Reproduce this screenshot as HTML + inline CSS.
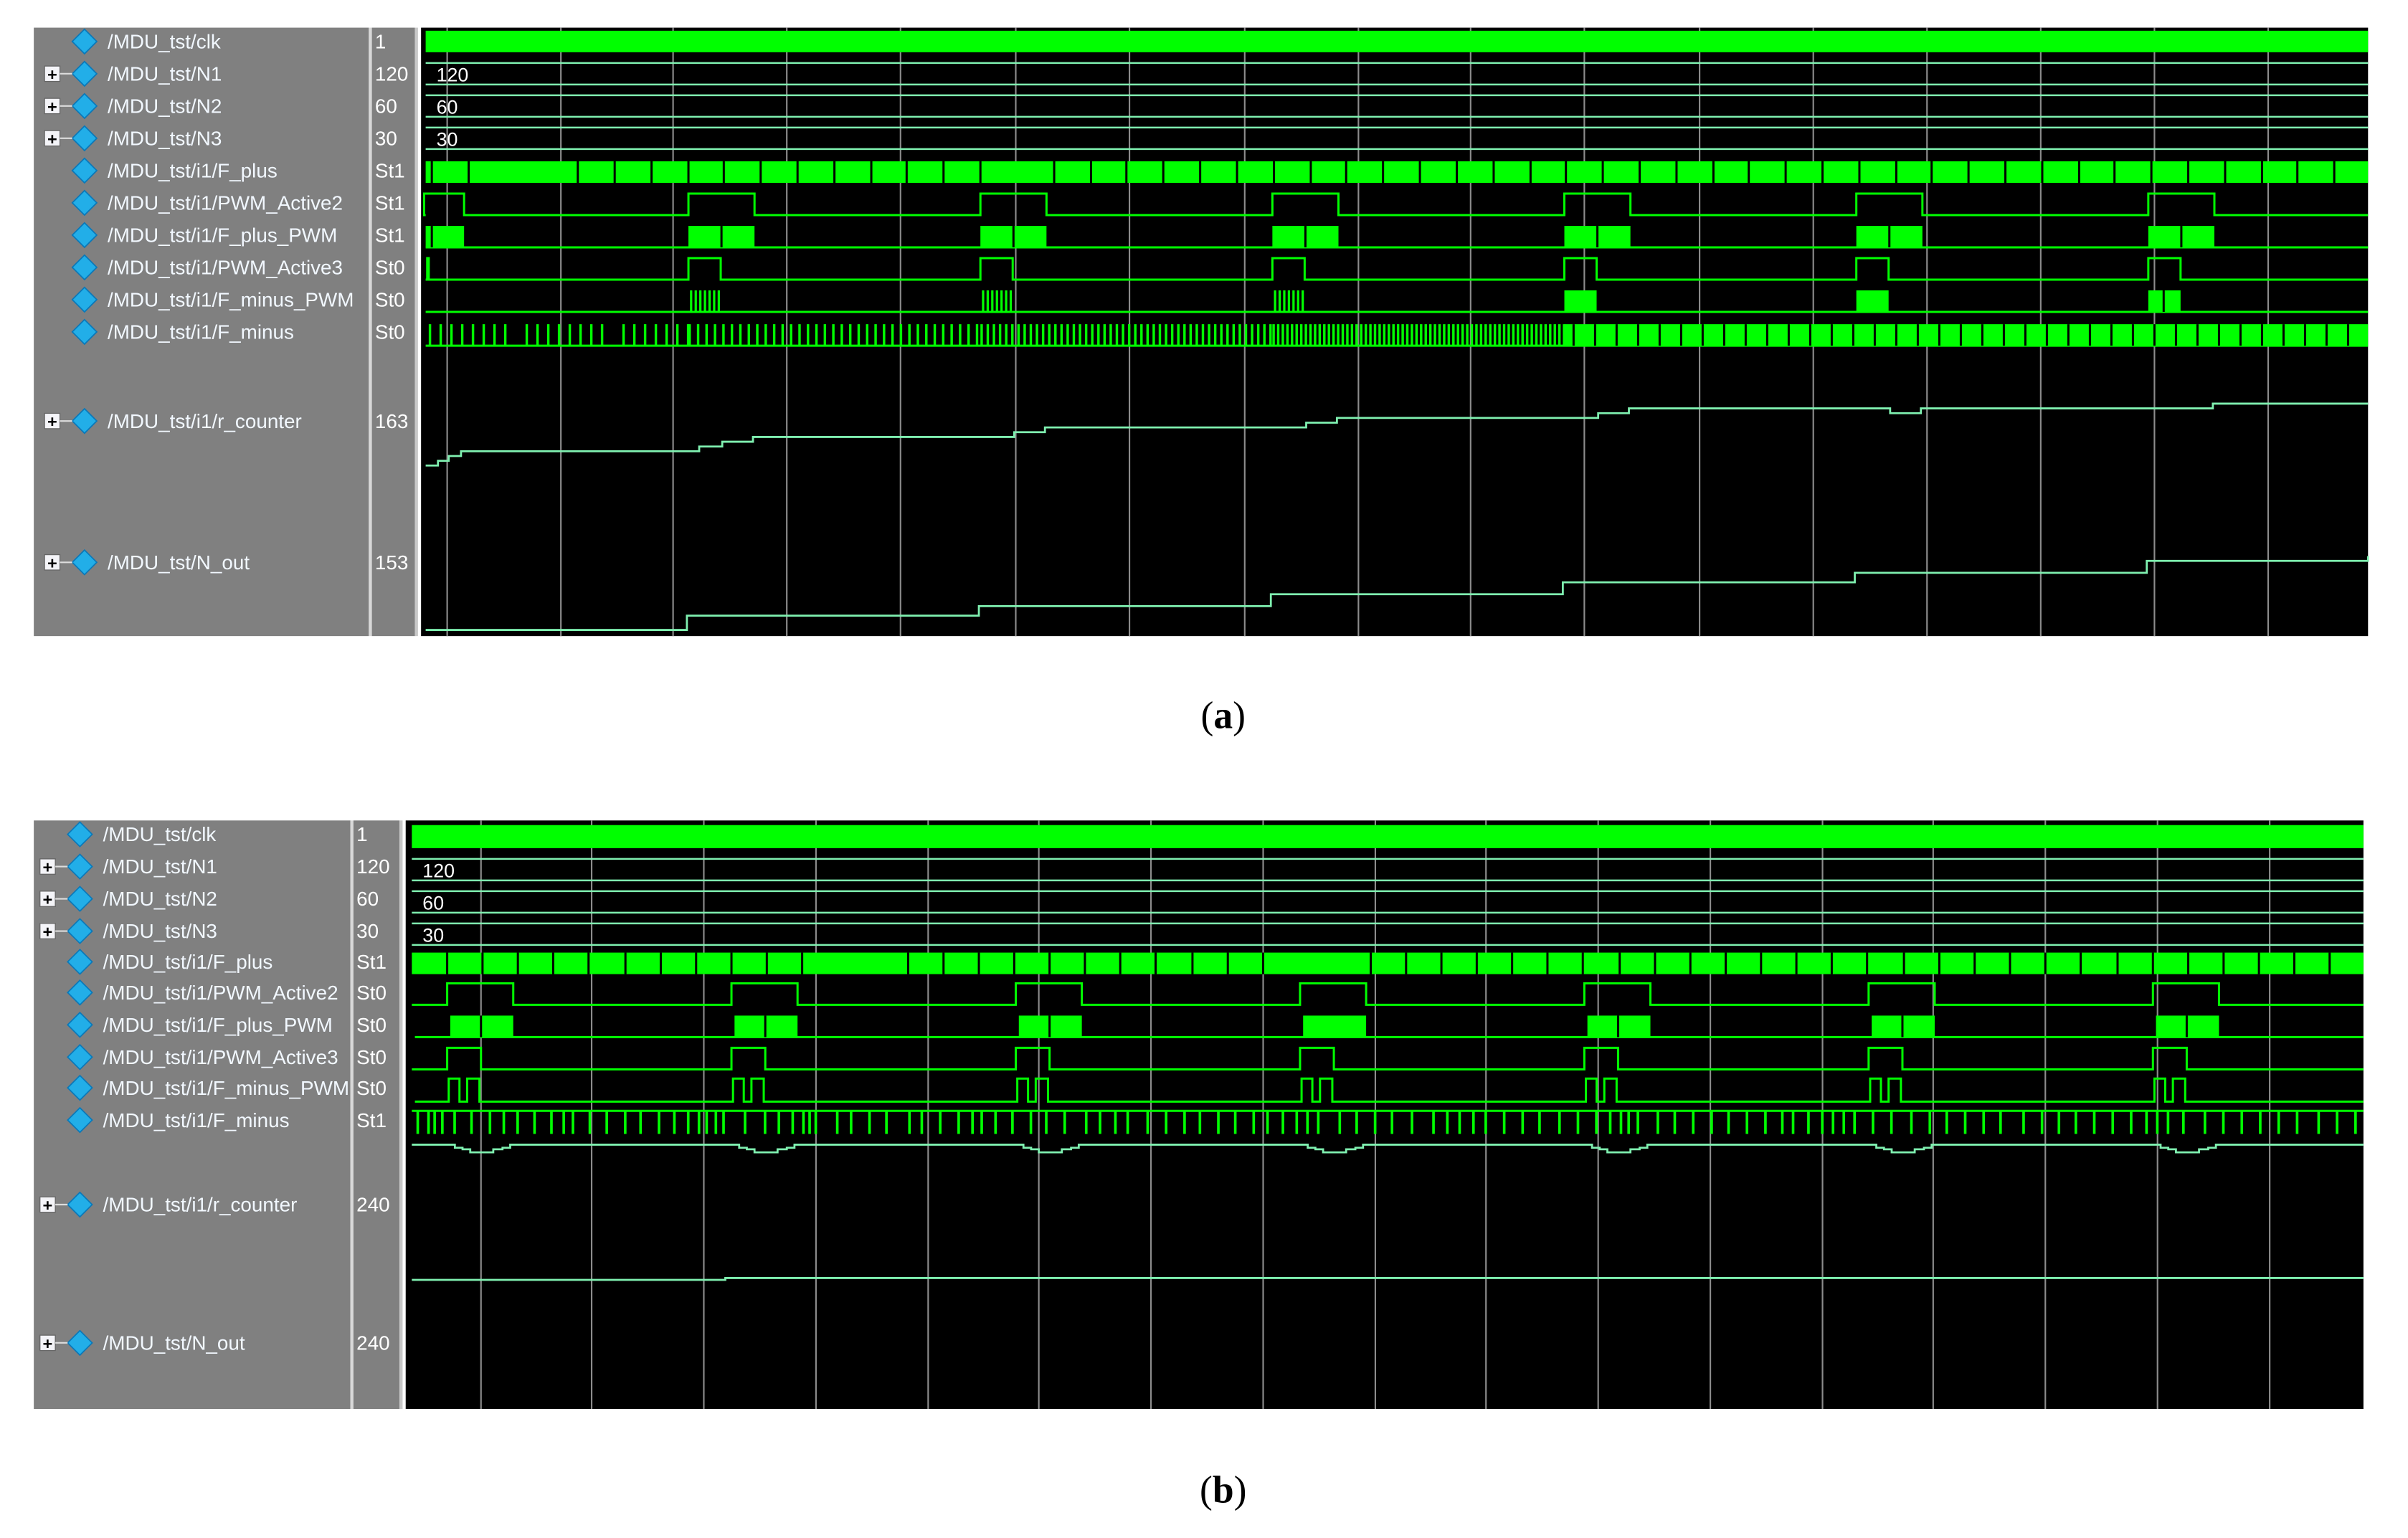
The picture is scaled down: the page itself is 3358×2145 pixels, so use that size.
<!DOCTYPE html>
<html><head><meta charset="utf-8"><style>
html,body{margin:0;padding:0;background:#fff;}
svg{display:block;}
text{font-family:"Liberation Sans","DejaVu Sans",sans-serif;}
</style></head><body>
<svg id="fig" xmlns="http://www.w3.org/2000/svg" width="3358" height="2145" viewBox="0 0 1567 1001" preserveAspectRatio="none">
<rect x="0" y="0" width="1567" height="1001" fill="#fff"/>
<text x="796" y="474" text-anchor="middle" font-size="25" style="font-family:'Liberation Serif',serif">(<tspan font-weight="bold">a</tspan>)</text>
<text x="796" y="978" text-anchor="middle" font-size="25" style="font-family:'Liberation Serif',serif">(<tspan font-weight="bold">b</tspan>)</text>
<g id="pa"></g><g id="pb"></g>
</svg>
<script>
// ---------- DATA (times in simulator units) ----------
const signalNames = ["/MDU_tst/clk","/MDU_tst/N1","/MDU_tst/N2","/MDU_tst/N3","/MDU_tst/i1/F_plus","/MDU_tst/i1/PWM_Active2","/MDU_tst/i1/F_plus_PWM","/MDU_tst/i1/PWM_Active3","/MDU_tst/i1/F_minus_PWM","/MDU_tst/i1/F_minus","/MDU_tst/i1/r_counter","/MDU_tst/N_out"];
const expandable = [false,true,true,true,false,false,false,false,false,false,true,true];
const valuesA = ["1","120","60","30","St1","St1","St1","St0","St0","St0","163","153"];
const valuesB = ["1","120","60","30","St1","St0","St0","St0","St0","St1","240","240"];
const busValues = ["120","60","30"];
// panel a
const gridA = [14,88,161,235,309,384,458,533,607,680,754,829,903,977,1051,1125,1199];
const fplusGapsA = [4,28,99,123,147,171,194,218,242,266,290,313,337,361,409,433,456,480,504,528,552,576,599,623,647,671,695,719,742,766,790,814,838,861,885,909,933,957,980,1004,1028,1052,1076,1099,1123,1147,1171,1195,1218,1242];
const pwm2StartA = [171,361,551,741,931,1121];
const pwm2EndA = [214,404,594,784,974,1164];
const pwm3EndA = [192,382,572,762,952,1142];
const rcT = [0,8,15,23,170,178,193,213,360,383,403,550,573,593,740,763,783,930,940,953,973,1121,1133,1143,1163,1264];
const rcV = [150,151,152,153,153,154,155,156,156,157,158,158,159,160,160,161,162,162,162,161,162,162,162,162,163,163];
const noT = [0,170,360,550,740,930,1120,1264];
const noV = [120,126,130,135,140,144,149,151];
// F_minus density segments (start, end, pulse period)
const fmSegStart = [2,171,361,551,741];
const fmSegEnd = [171,361,551,741,1264];
const fmSegPeriod = [7,5.5,4,3,14];
// panel b
const gridB = [45,117,190,263,336,408,481,554,627,699,772,845,918,990,1063,1136,1209];
const fplusGapsB = [23,46,69,92,115,139,162,185,208,231,254,323,346,369,392,415,438,461,484,508,531,554,624,647,670,693,716,739,762,786,809,832,855,878,901,924,947,971,994,1017,1040,1063,1086,1110,1133,1156,1179,1202,1225,1248];
const pwm2StartB = [23,208,393,578,763,948,1133];
const fmGapsB = [3,10,14,19,27,38,50,59,68,79,90,98,104,115,126,138,148,160,170,179,186,191,197,202,216,229,238,247,254,258,262,276,285,297,308,323,331,343,355,364,370,379,390,402,412,424,438,447,457,465,478,490,502,512,524,535,547,556,566,575,582,589,603,614,626,637,650,664,673,681,690,698,710,722,733,746,758,770,779,786,791,797,810,821,833,845,856,868,880,891,898,908,917,924,931,938,950,962,975,987,998,1010,1022,1033,1048,1060,1071,1082,1094,1106,1118,1128,1135,1142,1152,1166,1178,1190,1202,1214,1226,1240,1252,1264];

// ---------- helpers ----------
const NS="http://www.w3.org/2000/svg";
function mk(parent,tag,attrs){const e=document.createElementNS(NS,tag);for(const k in attrs)e.setAttribute(k,attrs[k]);parent.appendChild(e);return e;}
const GREEN="#00ff00", BUS="#7ff0b0";

function panel(g,P){
  let r=mk(g,'rect',{x:P.nx,y:P.top,width:P.nw,height:P.h,fill:'#808080'});
  
  
  r=mk(g,'rect',{x:P.nx+P.nw,y:P.top,width:2,height:P.h,fill:'#d8d8d8'});
  
  
  r=mk(g,'rect',{x:P.vx,y:P.top,width:P.vw,height:P.h,fill:'#808080'});
  
  
  r=mk(g,'rect',{x:P.vx+P.vw,y:P.top,width:2,height:P.h,fill:'#c8c8c8'});
  
  
  r=mk(g,'rect',{x:P.wx,y:P.top,width:P.ww,height:P.h,fill:'#000'});
  
  
  P.grid.forEach(t=>{const x=P.xs(t);let l=mk(g,'line',{x1:x,x2:x,y1:P.top,y2:P.top+P.h,stroke:'#8c8c8c','stroke-width':1});
    
    });
  signalNames.forEach((n,i)=>{const y=P.rows[i];
    const d=mk(g,'polygon',{points:`${P.ix},${y-8} ${P.ix+8},${y} ${P.ix},${y+8} ${P.ix-8},${y}`,fill:'#22aee8',stroke:'#0b78b8','stroke-width':0.8});
    
    
    if(expandable[i]){
      const b=mk(g,'rect',{x:P.ix-26,y:y-5,width:10,height:10,fill:'#f4f4f8',stroke:'#666','stroke-width':0.6});
      
      
      mk(g,'line',{x1:P.ix-16,x2:P.ix-8,y1:y,y2:y,stroke:'#ddd','stroke-width':1});
      mk(g,'text',{x:P.ix-21,y:y+4.2,'font-size':11,'text-anchor':'middle',fill:'#000','font-weight':'bold'}).textContent='+';
    }
    const t=mk(g,'text',{x:P.ix+15,y:y+4.5,'font-size':13,fill:'#f2f8ff'});
    t.textContent=n;
    
    
    const v=mk(g,'text',{x:P.vx+2,y:y+4.5,'font-size':13,fill:'#fff'});
    v.textContent=P.vals[i];
    
    
  });
}
function hline(g,x1,x2,y,c,w){return mk(g,'line',{x1,x2,y1:y,y2:y,stroke:c||GREEN,'stroke-width':w||1.4});}
function block(g,x1,x2,y1,y2){return mk(g,'rect',{x:x1,y:y1,width:Math.max(0,x2-x1),height:y2-y1,fill:GREEN});}
function gap(g,x,y1,y2,w){return mk(g,'rect',{x:x-(w||1)/2,y:y1,width:w||1.2,height:y2-y1,fill:'#000'});}
function sq(g,P,starts,ends,yh,yl,name){
  let pts=[[P.xs(0),yl]];
  starts.forEach((s,i)=>{pts.push([P.xs(s),yl],[P.xs(s),yh],[P.xs(ends[i]),yh],[P.xs(ends[i]),yl]);});
  pts.push([P.xs(P.tmax),yl]);
  const p=mk(g,'polyline',{points:pts.map(p=>p.join(',')).join(' '),fill:'none',stroke:GREEN,'stroke-width':1.4});
  
  
  return p;
}
function stepLine(g,P,ts,vs,ys,name){
  let pts=[];ts.forEach((t,i)=>{const y=ys(vs[i]);if(i>0)pts.push([P.xs(t),ys(vs[i-1])]);pts.push([P.xs(t),y]);});
  const p=mk(g,'polyline',{points:pts.map(p=>p.join(',')).join(' '),fill:'none',stroke:BUS,'stroke-width':1.3});
  
  
}
function busRows(g,P,ys){
  ys.forEach((y,i)=>{hline(g,P.xs(0),P.xs(P.tmax),y-7,BUS,1.2);hline(g,P.xs(0),P.xs(P.tmax),y+7,BUS,1.2);
    const t=mk(g,'text',{x:P.xs(0)+7,y:y+5,'font-size':12.5,fill:'#fff'});t.textContent=busValues[i];
    
    });
}

// ---------- PANEL A ----------
const A={nx:22,nw:218,vx:242,vw:28,wx:274,ww:1267,top:18,h:396,ix:55,vals:valuesA,grid:gridA,tmax:1264,
  rows:[27,48,69,90,111,132,153,174,195,216,274,366],xs:t=>277+t};
(function(){
  const g=document.getElementById('pa');panel(g,A);const xs=A.xs;
  let c=block(g,xs(0),xs(A.tmax),20,34);
  busRows(g,A,[48,69,90]);
  c=block(g,xs(0),xs(A.tmax),105,119);
  fplusGapsA.forEach(t=>gap(g,xs(t),105,119,1.4));
  sq(g,A,[-1].concat(pwm2StartA),[25].concat(pwm2EndA),126,140,'pwm-active2-wave');
  hline(g,xs(0),xs(A.tmax),161);
  block(g,xs(0),xs(25),147,161);gap(g,xs(4),147,161,1.4);
  pwm2StartA.forEach((s,i)=>{const b=block(g,xs(s),xs(pwm2EndA[i]),147,161);gap(g,xs((s+pwm2EndA[i])/2),147,161,1.4);});
  sq(g,A,[1].concat(pwm2StartA),[2].concat(pwm3EndA),168,182,'pwm-active3-wave');
  hline(g,xs(0),xs(A.tmax),203);
  pwm2StartA.forEach((s,i)=>{const e=pwm3EndA[i];
    if(i<3){for(let t=s+1;t<e-1;t+=3){block(g,xs(t),xs(t)+1.5,189,203);}}
    else{block(g,xs(s),xs(e),189,203);if(i==5)gap(g,xs(s+10),189,203,1.4);}
  });
  hline(g,xs(0),xs(A.tmax),225);
  fmSegStart.forEach((s,i)=>{const e=fmSegEnd[i],p=fmSegPeriod[i];
    if(p>10){block(g,xs(s),xs(e),211,225);for(let t=s+6;t<e;t+=p)gap(g,xs(t),211,225,1.4);}
    else{let k=0;for(let t=s;t<e;t+=p){k++;if(i==0&&(k%9==0))continue;block(g,xs(t),xs(t)+1.6,211,225);}}
  });
  stepLine(g,A,rcT,rcV,v=>303-(v-150)*3.1,'r-counter-wave');
  stepLine(g,A,noT,noV,v=>410-(v-120)*1.55,'n-out-wave');
})();

// ---------- PANEL B ----------
const B={nx:22,nw:206,vx:230,vw:30,wx:264,ww:1274,top:534,h:383,ix:52,vals:valuesB,grid:gridB,tmax:1270,
  rows:[543,564,585,606,626,646,667,688,708,729,784,874],xs:t=>268+t};
(function(){
  const g=document.getElementById('pb');panel(g,B);const xs=B.xs;
  let c=block(g,xs(0),xs(B.tmax),537,552);
  busRows(g,B,[566,587,608]);
  c=block(g,xs(0),xs(B.tmax),620,634);
  fplusGapsB.forEach(t=>gap(g,xs(t),620,634,1.4));
  const e2=pwm2StartB.map(s=>s+43), e3=pwm2StartB.map(s=>s+22);
  sq(g,B,pwm2StartB,e2,640,654,'pwm-active2-wave');
  hline(g,xs(2),xs(B.tmax),675);
  pwm2StartB.forEach((s,i)=>{const b=block(g,xs(s+2),xs(e2[i]),661,675);if(i!=3)gap(g,xs(s+22),661,675,1.4);});
  sq(g,B,pwm2StartB,e3,682,696,'pwm-active3-wave');
  let pts=[[xs(2),717]];
  pwm2StartB.forEach(s=>{[[s+1,s+8],[s+13,s+21]].forEach(([a,b])=>{pts.push([xs(a),717],[xs(a),702],[xs(b),702],[xs(b),717]);});});
  pts.push([xs(B.tmax),717]);
  let pl=mk(g,'polyline',{points:pts.map(p=>p.join(',')).join(' '),fill:'none',stroke:GREEN,'stroke-width':1.4});
  
  
  hline(g,xs(0),xs(B.tmax),723);
  fmGapsB.forEach(t=>{const b=block(g,xs(t),xs(t)+1.7,723,738);});
  let tp=[];tp.push([xs(0),745]);
  pwm2StartB.forEach(s=>{[[s,745],[s+5,747],[s+10,748],[s+15,750],[s+25,750],[s+30,748],[s+36,747],[s+41,745]].forEach(([t,y])=>{tp.push([xs(t),tp[tp.length-1][1]],[xs(t),y]);});});
  tp.push([xs(B.tmax),745]);
  pl=mk(g,'polyline',{points:tp.map(p=>p.join(',')).join(' '),fill:'none',stroke:BUS,'stroke-width':1.3});
  
  
  stepLine(g,B,[0,204,1270],[240,241,241],v=>833-(v-240)*1.2,'r-counter-wave');
})();
</script>
</body></html>
